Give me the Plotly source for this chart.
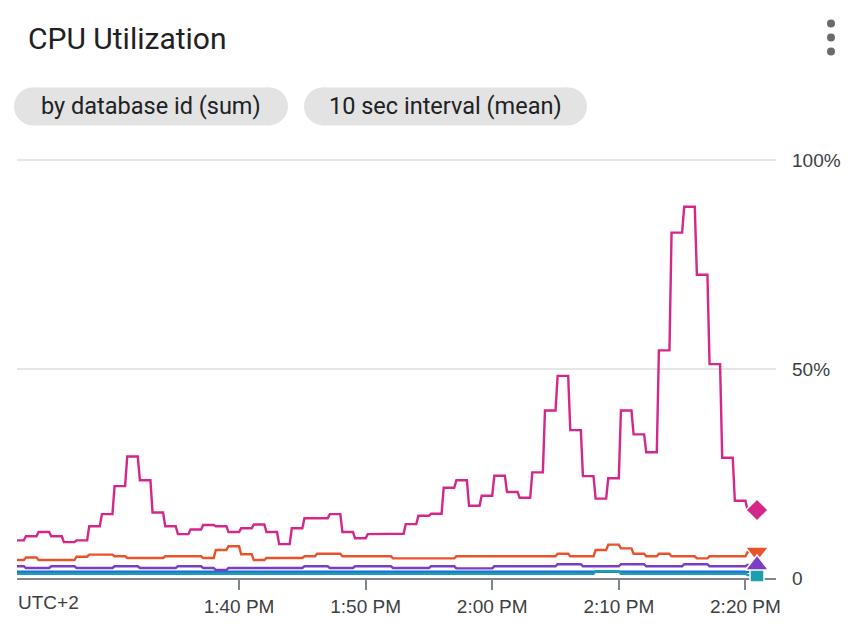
import pandas as pd
import plotly.graph_objects as go

# ---------------- data (per-minute values, % CPU) ----------------
start_minute = "2024-01-01 13:22:00"
magenta = [9.0, 10.0, 11.0, 10.0, 8.6, 9.0, 12.4, 15.3, 22.0, 29.1,
           23.4, 15.7, 12.4, 10.5, 11.6, 12.7, 12.4, 11.0, 11.9, 12.8,
           11.0, 8.1, 11.9, 14.3, 14.3, 15.3, 11.0, 9.5, 10.5, 10.5,
           10.6, 12.9, 14.9, 15.4, 21.6, 23.4, 17.3, 19.7, 24.5, 20.6,
           19.2, 25.3, 40.1, 48.4, 35.4, 24.4, 19.0, 23.9, 40.1, 34.4,
           30.1, 54.5, 82.7, 88.9, 72.6, 51.2, 28.8, 18.5, 16.3]
orange = [4.3, 4.9, 4.3, 4.3, 4.3, 5.1, 5.6, 5.6, 5.2, 4.8,
          4.8, 4.8, 5.2, 5.2, 5.2, 4.8, 6.7, 7.6, 5.7, 4.3,
          4.8, 4.8, 4.8, 5.2, 5.8, 5.8, 5.2, 5.2, 5.2, 5.2,
          4.7, 4.7, 4.7, 4.7, 4.7, 5.2, 5.2, 5.2, 5.2, 5.2,
          5.2, 5.2, 5.2, 5.8, 5.2, 5.2, 6.7, 8.0, 7.1, 5.8,
          5.2, 5.8, 5.2, 5.2, 4.7, 5.2, 5.2, 5.2, 6.2]
purple = [2.8, 2.4, 2.4, 2.8, 2.8, 2.4, 2.4, 2.4, 2.8, 2.8,
          2.4, 2.4, 2.4, 2.8, 2.8, 2.4, 1.9, 2.4, 2.4, 2.4,
          2.4, 2.4, 2.4, 2.8, 2.8, 2.4, 2.4, 2.8, 2.8, 2.8,
          2.4, 2.4, 2.4, 2.8, 2.8, 2.3, 2.3, 2.3, 2.8, 2.8,
          2.8, 2.8, 2.8, 3.3, 3.3, 2.8, 2.8, 2.8, 3.3, 3.3,
          2.8, 2.8, 2.8, 3.3, 3.3, 2.8, 2.8, 2.8, 3.1]
blue = [1.5] * 59
teal = [1.0, 1.0, 1.0, 1.0, 1.0, 1.0, 1.0, 1.0, 1.0, 1.0,
        1.0, 1.0, 1.0, 1.0, 1.0, 1.0, 1.0, 1.0, 1.0, 1.0,
        1.0, 1.0, 1.0, 1.0, 1.0, 1.0, 1.0, 1.0, 1.0, 1.0,
        1.0, 1.0, 1.0, 1.0, 1.0, 1.0, 1.0, 1.0, 1.0, 1.0,
        1.0, 1.0, 1.0, 1.0, 1.0, 1.0, 1.6, 1.6, 1.0, 1.0,
        1.0, 1.0, 1.0, 1.0, 1.0, 1.0, 1.0, 1.0, 0.7]

tick_times = ["2024-01-01 13:40", "2024-01-01 13:50", "2024-01-01 14:00",
              "2024-01-01 14:10", "2024-01-01 14:20"]
tick_labels = ["1:40 PM", "1:50 PM", "2:00 PM", "2:10 PM", "2:20 PM"]
y_ticks = [0, 50, 100]
y_labels = ["0", "50%", "100%"]

# ---------------- styling ----------------
series = [
    ("blue", blue, "#1B6FD8", None),
    ("teal", teal, "#1E9FB0", "square"),
    ("purple", purple, "#7B3DC6", "triangle-up"),
    ("orange", orange, "#E8532B", "triangle-down"),
    ("magenta", magenta, "#D5268A", "diamond"),
]
marker_order = ["teal", "orange", "purple", "magenta"]
marker_size = {"square": 14, "triangle-up": 20, "triangle-down": 20, "diamond": 17}

# the page body has an 8px margin: lay out in page pixels, then shift
OFF = 8
W, H = 856 - OFF, 626 - OFF
Y_TOP = 102.0                 # axis top value (100% gridline must be drawn)
PX_PER_UNIT = 4.18
ML, MR, MB = 17 - OFF, 80, 48
MT = (160 - OFF) - (Y_TOP - 100) * PX_PER_UNIT
PW, PH = W - ML - MR, H - MT - MB


def px_x(px):
    return (px - OFF - ML) / PW


def px_y(py):
    return (H - MB - (py - OFF)) / PH


t0 = pd.Timestamp(start_minute)
one_min = pd.Timedelta(minutes=1)
lag = pd.Timedelta(seconds=10)


def step_points(vals):
    xs, ys = [], []
    for k, v in enumerate(vals):
        tk = t0 + k * one_min
        end = tk + one_min if k < len(vals) - 1 else tk + pd.Timedelta(seconds=55)
        xs += [tk + lag, end]
        ys += [v, v]
    return xs, ys


fig = go.Figure()
for name, vals, color, sym in series:
    xs, ys = step_points(vals)
    fig.add_trace(go.Scatter(x=xs, y=ys, mode="lines", name=name,
                             line=dict(color=color, width=2.4),
                             hoverinfo="skip", cliponaxis=True))
by_name = {s[0]: s for s in series}
for name in marker_order:
    _, vals, color, sym = by_name[name]
    xs, ys = step_points(vals)
    fig.add_trace(go.Scatter(x=[xs[-1]], y=[ys[-1]], mode="markers", name=name + " last",
                             marker=dict(symbol=sym, size=marker_size[sym], color=color,
                                         line=dict(color="white", width=1.5)),
                             hoverinfo="skip", cliponaxis=False))

x_start = t0 + pd.Timedelta(seconds=27.6)
x_end = pd.Timestamp("2024-01-01 14:22:25")

fig.update_layout(
    width=W, height=H,
    margin=dict(l=ML, r=MR, t=MT, b=MB, pad=0),
    paper_bgcolor="white", plot_bgcolor="white",
    showlegend=False,
    font=dict(family="Liberation Sans, Arial, sans-serif", size=19, color="#3C4043"),
    xaxis=dict(type="date", range=[x_start, x_end], tickvals=tick_times, ticktext=tick_labels,
               showgrid=False, zeroline=False, showline=True, linecolor="#80868B", linewidth=2,
               ticks="outside", ticklen=10, tickwidth=2, tickcolor="#80868B",
               tickfont=dict(size=19, color="#3C4043"), layer="below traces", fixedrange=True),
    yaxis=dict(range=[0, Y_TOP], side="right", tickvals=y_ticks, ticktext=y_labels,
               showgrid=True, gridcolor="#E6E6E6", gridwidth=1.5, zeroline=False,
               ticks="", ticklabelstandoff=15, tickfont=dict(size=19, color="#3C4043"),
               layer="below traces", fixedrange=True),
)

shapes = []
# chips (pill shapes: rect + two end circles)
chip_fill = "#E3E3E3"
for (x0, x1) in [(14, 288), (304, 587)]:
    y0, y1 = 87, 125
    r = (y1 - y0) / 2
    shapes.append(dict(type="rect", xref="paper", yref="paper",
                       x0=px_x(x0 + r), x1=px_x(x1 - r), y0=px_y(y1), y1=px_y(y0),
                       fillcolor=chip_fill, line=dict(width=0), layer="below"))
    for cx in (x0 + r, x1 - r):
        shapes.append(dict(type="circle", xref="paper", yref="paper",
                           x0=px_x(cx - r), x1=px_x(cx + r), y0=px_y(y1), y1=px_y(y0),
                           fillcolor=chip_fill, line=dict(width=0), layer="below"))
# kebab menu dots
for cy in (23, 37, 51):
    shapes.append(dict(type="circle", xref="paper", yref="paper",
                       x0=px_x(827), x1=px_x(835), y0=px_y(cy + 4), y1=px_y(cy - 4),
                       fillcolor="#6B6B6B", line=dict(width=0)))
fig.update_layout(shapes=shapes)

annotations = [
    dict(text="CPU Utilization", x=px_x(26), y=px_y(38), xanchor="left", yanchor="middle",
         font=dict(family="Roboto, sans-serif", size=30, color="#202124")),
    dict(text="by database id (sum)", x=px_x(151), y=px_y(106), xanchor="center", yanchor="middle",
         font=dict(family="Roboto, sans-serif", size=23.5, color="#202124")),
    dict(text="10 sec interval (mean)", x=px_x(445.5), y=px_y(106), xanchor="center", yanchor="middle",
         font=dict(family="Roboto, sans-serif", size=23.5, color="#202124")),
    dict(text="UTC+2", x=px_x(16), y=px_y(603), xanchor="left", yanchor="middle",
         font=dict(family="Liberation Sans, Arial, sans-serif", size=19, color="#3C4043")),
]
for a in annotations:
    a.update(xref="paper", yref="paper", showarrow=False)
fig.update_layout(annotations=annotations)

fig.write_html("out.html")
